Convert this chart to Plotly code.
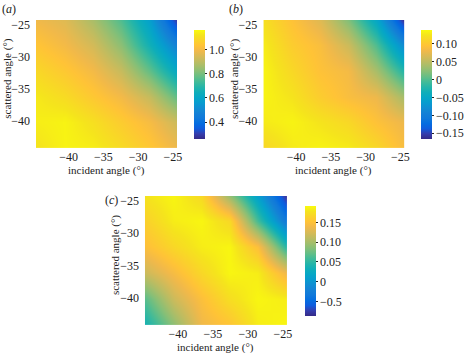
import plotly.graph_objects as go

# ---------------- data ----------------
incident = [-44.5, -40.5, -36.5, -32.5, -28.5, -24.5]
scattered = [-44.2, -40.2, -36.2, -32.2, -28.2, -24.2]   # rows bottom -> top

z_a = [
    [1.12, 1.15, 1.14, 1.10, 1.05, 0.99],
    [1.14, 1.15, 1.11, 1.06, 1.01, 0.93],
    [1.13, 1.10, 1.05, 1.00, 0.92, 0.78],
    [1.09, 1.05, 1.00, 0.92, 0.78, 0.62],
    [1.04, 1.00, 0.94, 0.83, 0.66, 0.48],
    [0.99, 0.96, 0.87, 0.75, 0.58, 0.30],
]
z_b = [
    [0.115, 0.130, 0.135, 0.130, 0.115, 0.090],
    [0.130, 0.135, 0.125, 0.115, 0.095, 0.080],
    [0.135, 0.125, 0.105, 0.090, 0.080, 0.040],
    [0.135, 0.115, 0.095, 0.085, 0.040, -0.020],
    [0.130, 0.105, 0.090, 0.060, 0.000, -0.080],
    [0.120, 0.095, 0.070, 0.020, -0.050, -0.160],
]
z_c = [
    [0.040, 0.090, 0.140, 0.155, 0.185, 0.190],
    [0.070, 0.120, 0.150, 0.175, 0.190, 0.185],
    [0.120, 0.145, 0.170, 0.190, 0.185, 0.140],
    [0.150, 0.170, 0.185, 0.190, 0.150, 0.050],
    [0.165, 0.185, 0.190, 0.170, 0.060, -0.030],
    [0.180, 0.190, 0.170, 0.090, 0.010, -0.080],
]

cb_a_vals = [0.4, 0.6, 0.8, 1.0]
cb_a_text = ["0.4", "0.6", "0.8", "1.0"]
cb_b_vals = [-0.15, -0.10, -0.05, 0, 0.05, 0.10]
cb_b_text = ["\u22120.15", "\u22120.10", "\u22120.05", "0", "0.05", "0.10"]
cb_c_vals = [-0.05, 0, 0.05, 0.10, 0.15]
cb_c_text = ["\u22120.5", "0", "0.05", "0.10", "0.15"]

x_ticks = [-40, -35, -30, -25]
x_ticktext = ["\u221240", "\u221235", "\u221230", "\u221225"]
y_ticks = [-40, -35, -30, -25]
y_ticktext = ["\u221240", "\u221235", "\u221230", "\u221225"]

# parula colormap (subset of MATLAB's 64 entries)
parula_rgb = [
    (0.2081, 0.1663, 0.5292), (0.2081, 0.2386, 0.6771), (0.0591, 0.3598, 0.8683),
    (0.0165, 0.4266, 0.8786), (0.0629, 0.4737, 0.8554), (0.0779, 0.5040, 0.8384),
    (0.0641, 0.5570, 0.8240), (0.0265, 0.6137, 0.8135), (0.0228, 0.6535, 0.7768),
    (0.0590, 0.6838, 0.7254), (0.1453, 0.7098, 0.6646), (0.2586, 0.7317, 0.5954),
    (0.3953, 0.7459, 0.5244), (0.5300, 0.7491, 0.4661), (0.6473, 0.7456, 0.4188),
    (0.7525, 0.7384, 0.3768), (0.8507, 0.7299, 0.3360), (0.9450, 0.7261, 0.2886),
    (0.9990, 0.7653, 0.2164), (0.9789, 0.8271, 0.1633), (0.9589, 0.8949, 0.1132),
    (0.9763, 0.9831, 0.0538),
]
n = len(parula_rgb)
parula = [[i / (n - 1), "rgb(%d,%d,%d)" % tuple(int(round(c * 255)) for c in rgb)]
          for i, rgb in enumerate(parula_rgb)]

FONT = "Liberation Serif"
TXT = "#222222"
W, H = 474, 353

def px(xp):
    return xp / W

def py(yp):
    return 1 - yp / H

panels = [
    # (z, zmin, zmax, cbvals, cbtext, plot box px (l, r, t, b), cb x px)
    (z_a, 0.265, 1.165, cb_a_vals, cb_a_text, (38, 187, 18, 147), 194),
    (z_b, -0.165, 0.14, cb_b_vals, cb_b_text, (278, 427, 18, 147), 434),
    (z_c, -0.086, 0.193, cb_c_vals, cb_c_text, (153, 303, 195, 325), 311),
]

fig = go.Figure()
layout = dict(
    width=W, height=H, margin=dict(l=0, r=0, t=0, b=0),
    paper_bgcolor="white", plot_bgcolor="white",
    font=dict(family=FONT, size=12, color=TXT),
    showlegend=False,
)
annotations = []
for i, (z, zmin, zmax, cv, ct, box, cbx) in enumerate(panels):
    l, r, t, b = box
    sfx = "" if i == 0 else str(i + 1)
    fig.add_trace(go.Heatmap(
        x=incident, y=scattered, z=z, zmin=zmin, zmax=zmax,
        colorscale=parula, zsmooth="best",
        xaxis="x" + sfx, yaxis="y" + sfx,
        colorbar=dict(
            x=px(cbx), xanchor="left", xref="paper",
            y=py((t + b) / 2), yanchor="middle", yref="paper",
            len=b - t, lenmode="pixels", thickness=11, thicknessmode="pixels",
            outlinewidth=0, tickvals=cv, ticktext=ct,
            ticks="outside", ticklen=2, tickcolor=TXT,
            tickfont=dict(family=FONT, size=12, color=TXT),
        ),
    ))
    layout["xaxis" + sfx] = dict(
        domain=[px(l), px(r)], anchor="y" + sfx, range=[-44.7, -24.4],
        tickvals=x_ticks, ticktext=x_ticktext, showgrid=False, zeroline=False,
        showline=False, ticks="", tickfont=dict(family=FONT, size=12, color=TXT),
    )
    layout["yaxis" + sfx] = dict(
        domain=[py(b), py(t)], anchor="x" + sfx, range=[-44.2, -24.3],
        tickvals=y_ticks, ticktext=y_ticktext, showgrid=False, zeroline=False,
        showline=False, ticks="", ticklabelstandoff=5,
        tickfont=dict(family=FONT, size=12, color=TXT),
    )
    annotations.append(dict(
        text="incident angle (\u00b0)", xref="paper", yref="paper",
        x=px((l + r) / 2), y=py(b + 22), xanchor="center", yanchor="middle",
        showarrow=False, font=dict(family=FONT, size=11, color=TXT),
    ))
    annotations.append(dict(
        text="scattered angle (\u00b0)", xref="paper", yref="paper",
        x=px(l - 31), y=py((t + b) / 2 - 5), xanchor="center", yanchor="middle",
        textangle=-90, showarrow=False, font=dict(family=FONT, size=11, color=TXT),
    ))

for lab, xx, yy in [("a", 0, 7), ("b", 240, 7), ("c", 109, 199)]:
    annotations.append(dict(
        text="(<i>%s</i>)" % lab, xref="paper", yref="paper",
        x=px(xx), y=py(yy), xanchor="left", yanchor="middle",
        showarrow=False, font=dict(family=FONT, size=12, color=TXT),
    ))

layout["annotations"] = annotations
fig.update_layout(**layout)
fig.write_html("out.html")
